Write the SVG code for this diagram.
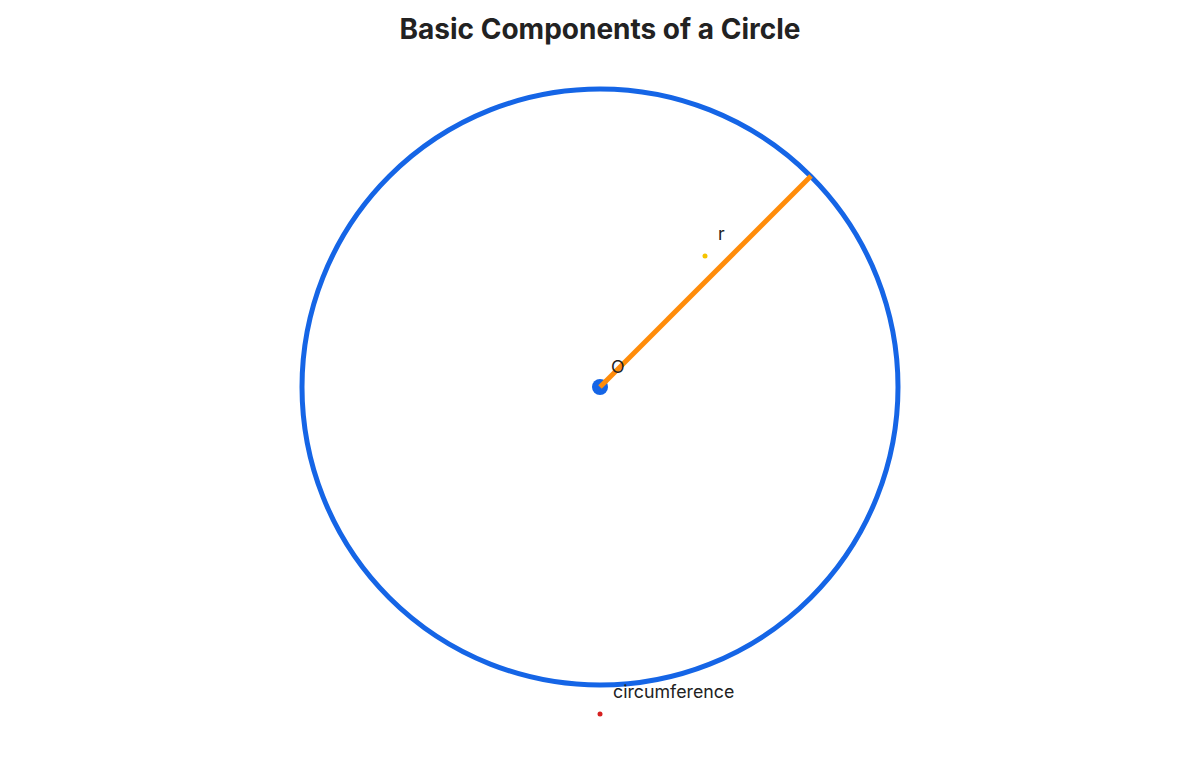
<svg xmlns="http://www.w3.org/2000/svg" width="1200" height="763" viewBox="0 0 1200 763">
<style>
.title{font-family:Inter,"Liberation Sans",sans-serif;font-weight:700;font-size:28px;fill:#222}
.lbl{font-family:Inter,"Liberation Sans",sans-serif;font-size:17.8px;fill:#222}
</style>
<rect width="1200" height="763" fill="#fff"/>
<text class="title" x="600" y="39" text-anchor="middle">Basic Components of a Circle</text>
<g id="circle"><circle cx="600" cy="387" r="298" fill="none" stroke="#1565e6" stroke-width="5"/></g>
<g id="connectors"><line x1="600" y1="387" x2="811" y2="176" stroke="#ff8c0a" stroke-width="5"/></g>
<g id="center"><circle cx="600" cy="387" r="8" fill="#1565e6"/><line x1="600" y1="387" x2="606" y2="381" stroke="#ff8c0a" stroke-width="5"/><text class="lbl" x="611" y="373">O</text></g>
<g id="radius"><circle cx="705" cy="256" r="2.5" fill="#f5c400"/><text class="lbl" x="718" y="240">r</text></g>
<g id="circumference"><circle cx="600" cy="714" r="2.5" fill="#d62020"/><text class="lbl" x="613" y="698">circumference</text></g>
</svg>
